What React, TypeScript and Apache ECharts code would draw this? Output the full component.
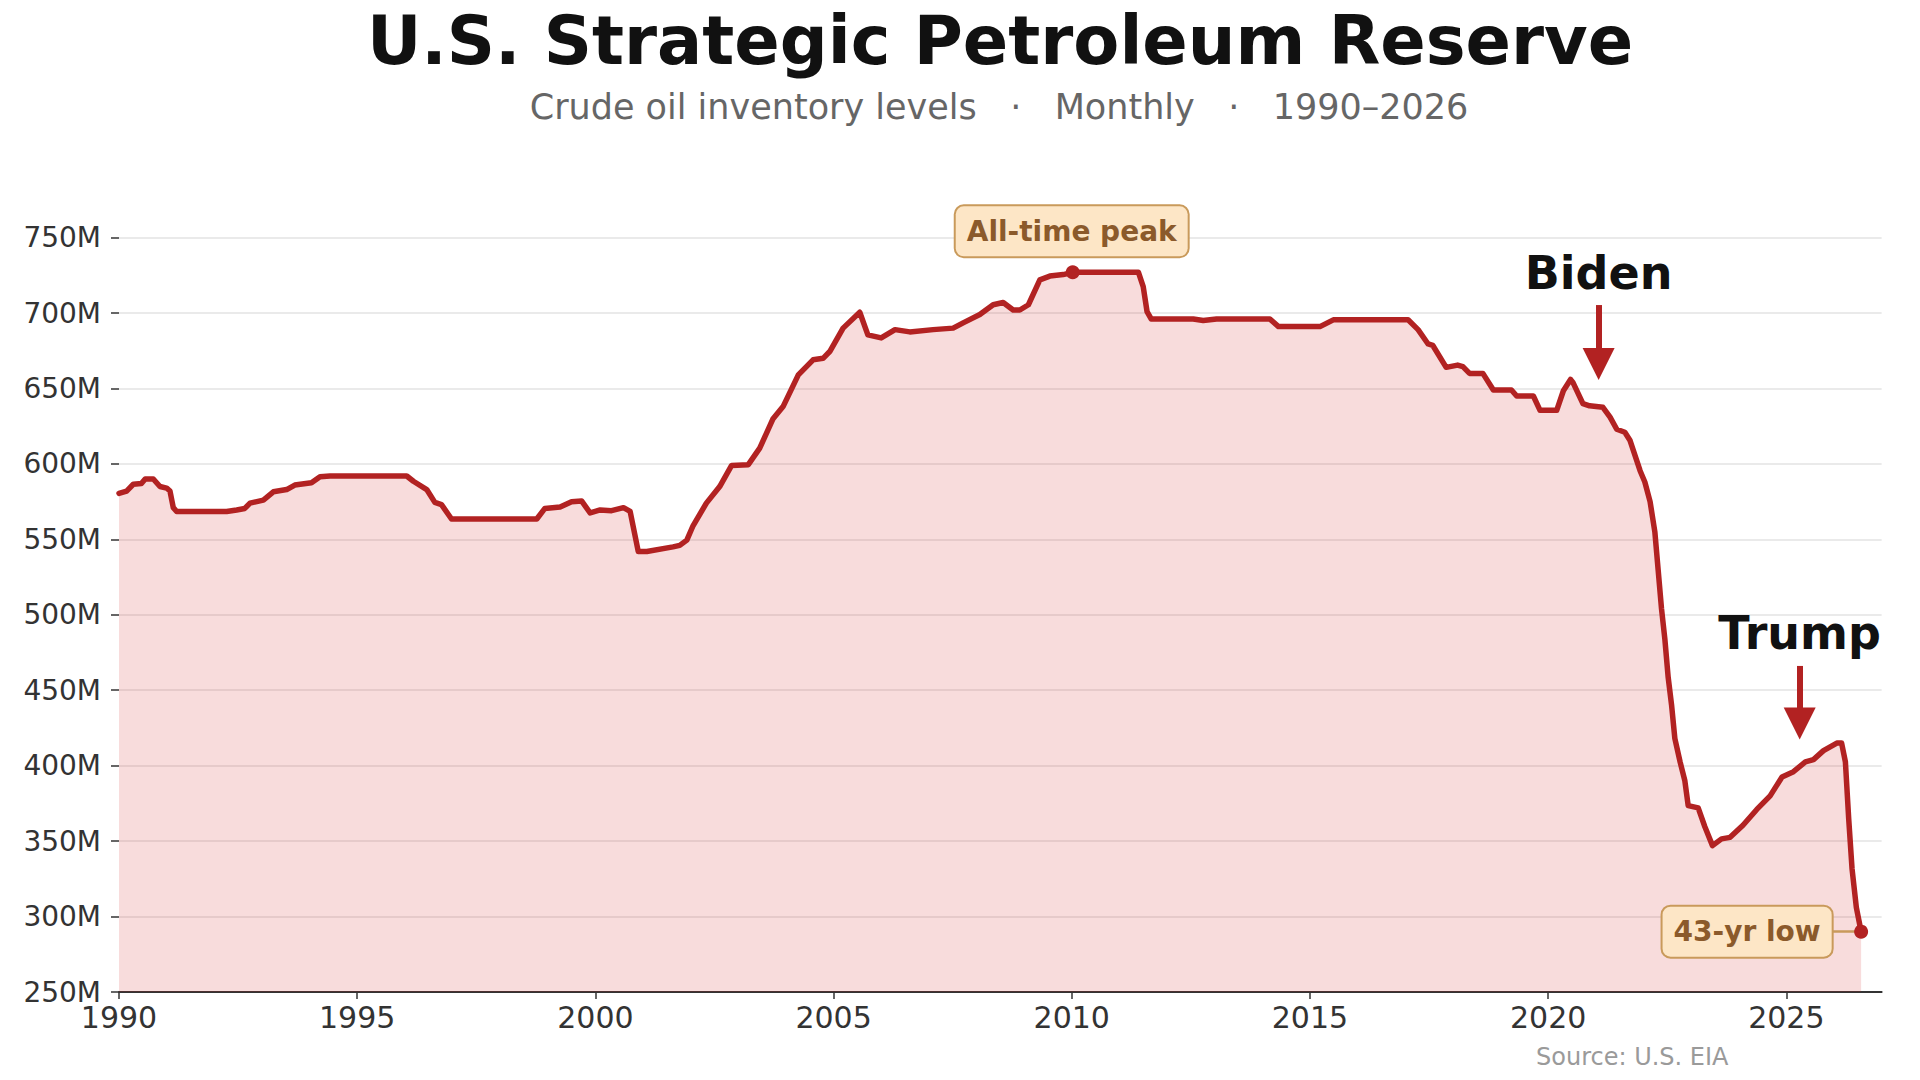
import React, { useEffect, useRef } from "react";
import * as echarts from "echarts";

const titleText = "U.S. Strategic Petroleum Reserve";
const subtitleText = "Crude oil inventory levels   ·   Monthly   ·   1990–2026";
const sourceText = "Source: U.S. EIA";

const xTicks = [1990, 1995, 2000, 2005, 2010, 2015, 2020, 2025];

// [year (decimal), inventory in million barrels]
const levels1990s: [number, number][] = [
  [1990.0, 580.5], [1990.16, 582], [1990.3, 586.5], [1990.47, 587], [1990.55, 590],
  [1990.72, 590], [1990.86, 585], [1991.0, 584], [1991.07, 582], [1991.14, 571],
  [1991.21, 568.5], [1992.26, 568.5], [1992.47, 569.5], [1992.64, 570.5], [1992.75, 574],
  [1993.03, 576], [1993.24, 581.5], [1993.52, 583], [1993.69, 586], [1994.04, 587.5],
  [1994.22, 591.5], [1994.43, 592], [1996.04, 592], [1996.18, 588.5], [1996.46, 583],
  [1996.63, 574.5], [1996.77, 573], [1996.98, 563.5], [1998.77, 563.5], [1998.94, 570.5],
  [1999.26, 571.5], [1999.5, 575], [1999.71, 575.5], [1999.89, 567.5],
];
const levels2000s: [number, number][] = [
  [2000.1, 569.5], [2000.34, 569], [2000.59, 571], [2000.73, 568.5], [2000.9, 542],
  [2001.08, 542], [2001.63, 545], [2001.77, 546], [2001.92, 549.5], [2002.05, 559],
  [2002.33, 574], [2002.61, 585], [2002.86, 599], [2003.21, 599.5], [2003.45, 610.5],
  [2003.73, 630], [2003.94, 638], [2004.26, 659], [2004.57, 669], [2004.78, 670],
  [2004.92, 674.5], [2005.2, 690], [2005.55, 700.5], [2005.72, 685.5], [2006.0, 683.5],
  [2006.29, 689], [2006.6, 687.5], [2007.09, 689], [2007.51, 690], [2007.72, 693.5],
  [2008.07, 699], [2008.35, 705.5], [2008.56, 707], [2008.77, 702], [2008.91, 702],
  [2009.09, 705.5], [2009.33, 722], [2009.54, 724.5], [2009.82, 725.5],
];
const levels2010s: [number, number][] = [
  [2010.02, 727], [2011.4, 727], [2011.5, 717.5], [2011.58, 701], [2011.67, 696],
  [2012.55, 696], [2012.76, 695], [2013.04, 696], [2014.16, 696], [2014.34, 691],
  [2015.21, 691], [2015.49, 695.5], [2017.06, 695.5], [2017.27, 689], [2017.48, 679.5],
  [2017.58, 678.5], [2017.86, 664], [2018.1, 665.5], [2018.21, 664.5], [2018.35, 660],
  [2018.63, 660], [2018.85, 649], [2019.23, 649], [2019.34, 645], [2019.69, 645],
  [2019.83, 635.5],
];
const levels2020s: [number, number][] = [
  [2020.18, 635.5], [2020.32, 648.5], [2020.47, 656], [2020.52, 654], [2020.73, 640],
  [2020.87, 638.5], [2021.15, 637.5], [2021.3, 631], [2021.44, 623], [2021.61, 621],
  [2021.72, 615.5], [2021.93, 595.5], [2022.03, 588], [2022.14, 575], [2022.24, 555],
  [2022.31, 529.5], [2022.38, 504], [2022.45, 484], [2022.52, 458.5], [2022.59, 440.5],
  [2022.66, 418], [2022.77, 402.5], [2022.87, 390], [2022.94, 373.5], [2023.15, 372],
  [2023.29, 359.5], [2023.45, 347], [2023.64, 351.5], [2023.82, 352.5], [2024.09, 360.5],
  [2024.38, 371], [2024.66, 380], [2024.91, 392.5], [2025.15, 396], [2025.4, 402.5],
  [2025.57, 404], [2025.78, 410], [2026.06, 415], [2026.16, 415], [2026.24, 402.5],
  [2026.31, 364.5], [2026.38, 331.5], [2026.47, 306], [2026.57, 290],
];

// Annotations (data units)
const presidentNames = ["Biden", "Trump"];
const presidentYears = [2021.06, 2025.28];
const presidentLabelLevels = [726.4, 487.9];
const presidentArrowTops = [705.3, 466.1];
const presidentArrowHeads = [666.2, 428.0];
const peakLabel = "All-time peak";
const lowLabel = "43-yr low";

const FONT = "DejaVu Sans";
const RED = "#B22222";

export default function App() {
  const ref = useRef<HTMLDivElement>(null);

  useEffect(() => {
    if (!ref.current) return;
    const chart = echarts.init(ref.current, undefined, { renderer: "svg" });

    const data = [...levels1990s, ...levels2000s, ...levels2010s, ...levels2020s];
    let peak = data[0];
    for (const d of data) if (d[1] > peak[1]) peak = d;
    const low = data[data.length - 1];

    const boxLabel = {
      show: true,
      position: "inside",
      backgroundColor: "#FDE6C6",
      borderColor: "#C99A5B",
      borderWidth: 2,
      borderRadius: 8,
      padding: [11, 11, 11, 11],
      color: "#8B5A2B",
      fontFamily: FONT,
      fontWeight: "bold",
      fontSize: 28,
    };

    const option: any = {
      animation: false,
      backgroundColor: "#ffffff",
      textStyle: { fontFamily: FONT },
      grid: {
        left: 119,
        right: 38.4,
        top: 237.6,
        bottom: 88,
        containLabel: false,
        outerBoundsMode: "none",
      },
      xAxis: {
        type: "value",
        min: 1990,
        max: 2027,
        interval: 5,
        axisLine: { show: true, lineStyle: { color: "#333333", width: 2 } },
        axisTick: {
          show: true,
          length: 7,
          customValues: xTicks,
          lineStyle: { color: "#333333", width: 1.5 },
        },
        axisLabel: {
          show: true,
          margin: 10,
          customValues: xTicks,
          fontSize: 30,
          color: "#333333",
          fontFamily: FONT,
          formatter: (v: number) => String(v),
        },
        splitLine: { show: false },
      },
      yAxis: {
        type: "value",
        min: 250,
        max: 750,
        interval: 50,
        axisLine: { show: false },
        axisTick: {
          show: true,
          length: 8,
          lineStyle: { color: "#333333", width: 1.5 },
        },
        axisLabel: {
          show: true,
          margin: 18,
          fontSize: 28,
          color: "#333333",
          fontFamily: FONT,
          formatter: (v: number) => `${v}M`,
        },
        splitLine: { show: true, lineStyle: { color: "#E3E3E3", width: 1.5 } },
      },
      graphic: [
        {
          type: "text",
          x: 1000,
          y: 41,
          style: {
            text: titleText,
            fontSize: 67,
            fontWeight: "bold",
            fontFamily: FONT,
            fill: "#111111",
            align: "center",
            verticalAlign: "middle",
            textAlign: "center",
            textVerticalAlign: "middle",
          },
        },
        {
          type: "text",
          x: 999,
          y: 107,
          style: {
            text: subtitleText,
            fontSize: 35,
            fontFamily: FONT,
            fill: "#666666",
            align: "center",
            verticalAlign: "middle",
            textAlign: "center",
            textVerticalAlign: "middle",
          },
        },
        {
          type: "text",
          x: 1536,
          y: 1057,
          style: {
            text: sourceText,
            fontSize: 24,
            fontFamily: FONT,
            fill: "#9A9A9A",
            align: "left",
            verticalAlign: "middle",
            textAlign: "left",
            textVerticalAlign: "middle",
          },
        },
      ],
      series: [
        {
          type: "line",
          data,
          showSymbol: false,
          symbol: "none",
          smooth: false,
          lineStyle: { color: RED, width: 5.5, join: "round", cap: "round" },
          areaStyle: { color: "rgba(214,39,40,0.16)", opacity: 1, origin: "start" },
          z: 2,
          markLine: {
            silent: true,
            symbol: ["none", "triangle"],
            symbolSize: [32, 32],
            label: { show: false },
            emphasis: { disabled: true },
            lineStyle: { color: RED, width: 6, type: "solid" },
            data: [
              ...presidentYears.map((yr, i) => [
                { coord: [yr, presidentArrowTops[i]], symbol: "none" },
                { coord: [yr, presidentArrowHeads[i]], symbol: "triangle" },
              ]),
              [
                {
                  coord: [low[0] - 0.6, low[1]],
                  symbol: "none",
                  lineStyle: { color: "#C99A5B", width: 2.5 },
                },
                {
                  coord: [low[0], low[1]],
                  symbol: "none",
                  lineStyle: { color: "#C99A5B", width: 2.5 },
                },
              ],
            ],
          },
          markPoint: {
            silent: true,
            emphasis: { disabled: true },
            data: [
              {
                coord: [peak[0], peak[1]],
                symbol: "circle",
                symbolSize: 14,
                itemStyle: { color: RED },
                label: { ...boxLabel, formatter: peakLabel, offset: [-1, -41] },
              },
              {
                coord: [low[0], low[1]],
                symbol: "circle",
                symbolSize: 14,
                itemStyle: { color: RED },
                label: { ...boxLabel, formatter: lowLabel, offset: [-114, 0] },
              },
              ...presidentNames.map((name, i) => ({
                coord: [presidentYears[i], presidentLabelLevels[i]],
                symbol: "circle",
                symbolSize: 1,
                itemStyle: { color: "transparent" },
                label: {
                  show: true,
                  position: "inside",
                  formatter: name,
                  color: "#111111",
                  fontFamily: FONT,
                  fontWeight: "bold",
                  fontSize: 46,
                },
              })),
            ],
          },
        },
      ],
    };

    chart.setOption(option);
    return () => {
      chart.dispose();
    };
  }, []);

  return (
    <div
      ref={ref}
      style={{ position: "absolute", left: 0, top: 0, width: 1920, height: 1080 }}
    />
  );
}
